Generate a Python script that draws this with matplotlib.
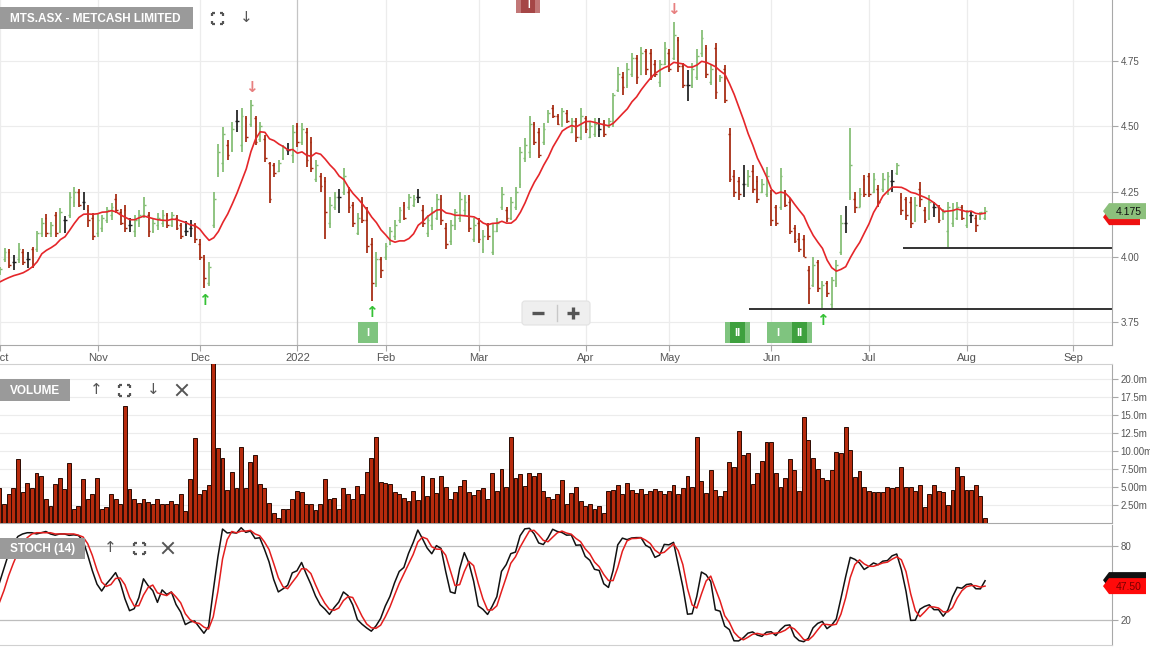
import numpy as np
import pandas as pd
import matplotlib
matplotlib.use("Agg")
import matplotlib.pyplot as plt
from matplotlib.patches import Rectangle, Polygon, FancyBboxPatch

plt.rcParams['font.family'] = ['Liberation Sans', 'DejaVu Sans']

# ---------------- data ----------------
holidays = ['2021-12-27', '2021-12-28', '2022-01-03', '2022-01-26',
            '2022-04-15', '2022-04-18', '2022-04-25', '2022-06-13']

opens = [3.94, 3.99, 4.02, 3.98, 3.99, 4.02, 3.99, 4.03, 4.03, 4.09,
         4.15, 4.09, 4.16, 4.10, 4.14, 4.16, 4.21, 4.25, 4.21, 4.18,
         4.15, 4.09, 4.11, 4.14, 4.16, 4.22, 4.17, 4.18, 4.12, 4.10,
         4.13, 4.16, 4.16, 4.10, 4.12, 4.13, 4.16, 4.12, 4.15, 4.12,
         4.10, 4.11, 4.12, 4.05, 3.99, 3.90, 4.12, 4.32, 4.36, 4.43,
         4.41, 4.52, 4.43, 4.53, 4.51, 4.53, 4.45, 4.45, 4.36, 4.35,
         4.33, 4.38, 4.41, 4.39, 4.50, 4.44, 4.48, 4.44, 4.30, 4.31,
         4.29, 4.13, 4.19, 4.23, 4.25, 4.25, 4.20, 4.09, 4.21, 4.14,
         4.05, 3.90, 3.99, 4.00, 4.05, 4.08, 4.14, 4.20, 4.19, 4.20,
         4.23, 4.18, 4.09, 4.12, 4.15, 4.22, 4.11, 4.06, 4.12, 4.15,
         4.18, 4.22, 4.07, 4.13, 4.03, 4.12, 4.02, 4.10, 4.19, 4.18,
         4.15, 4.19, 4.28, 4.38, 4.40, 4.51, 4.48, 4.44, 4.52, 4.57,
         4.54, 4.51, 4.55, 4.48, 4.52, 4.46, 4.53, 4.46, 4.47, 4.49,
         4.51, 4.50, 4.51, 4.64, 4.69, 4.66, 4.70, 4.76, 4.70, 4.79,
         4.78, 4.74, 4.67, 4.74, 4.78, 4.76, 4.83, 4.73, 4.66, 4.66,
         4.69, 4.78, 4.80, 4.67, 4.80, 4.68, 4.72, 4.47, 4.31, 4.29,
         4.28, 4.28, 4.33, 4.29, 4.25, 4.24, 4.24, 4.19, 4.19, 4.25,
         4.21, 4.11, 4.07, 4.07, 3.95, 3.89, 3.98, 3.82, 3.90, 3.82,
         3.90, 4.02, 4.13, 4.23, 4.22, 4.19, 4.30, 4.31, 4.25, 4.26,
         4.26, 4.25, 4.29, 4.32, 4.23, 4.22, 4.21, 4.14, 4.26, 4.18,
         4.15, 4.19, 4.19, 4.15, 4.10, 4.13, 4.15, 4.19, 4.12, 4.16,
         4.15, 4.15, 4.15]
highs = [3.960, 4.032, 4.028, 4.007, 4.054, 4.028, 4.019, 4.039, 4.100, 4.147,
         4.164, 4.134, 4.173, 4.188, 4.156, 4.249, 4.268, 4.258, 4.249, 4.198,
         4.166, 4.166, 4.160, 4.192, 4.205, 4.240, 4.185, 4.198, 4.147, 4.160,
         4.179, 4.230, 4.173, 4.147, 4.166, 4.179, 4.169, 4.173, 4.160, 4.128,
         4.138, 4.141, 4.131, 4.067, 4.007, 3.981, 4.249, 4.431, 4.498, 4.447,
         4.518, 4.562, 4.569, 4.539, 4.601, 4.539, 4.518, 4.466, 4.364, 4.360,
         4.371, 4.428, 4.437, 4.505, 4.511, 4.511, 4.492, 4.460, 4.371, 4.320,
         4.304, 4.230, 4.249, 4.258, 4.339, 4.269, 4.211, 4.166, 4.230, 4.192,
         4.071, 4.019, 4.000, 4.051, 4.115, 4.141, 4.190, 4.211, 4.240, 4.237,
         4.258, 4.198, 4.160, 4.192, 4.240, 4.237, 4.128, 4.141, 4.185, 4.249,
         4.237, 4.237, 4.147, 4.147, 4.103, 4.128, 4.128, 4.147, 4.268, 4.192,
         4.230, 4.268, 4.422, 4.454, 4.539, 4.518, 4.492, 4.511, 4.562, 4.581,
         4.549, 4.569, 4.562, 4.530, 4.530, 4.569, 4.539, 4.518, 4.530, 4.530,
         4.524, 4.530, 4.626, 4.728, 4.709, 4.741, 4.779, 4.773, 4.805, 4.798,
         4.798, 4.754, 4.754, 4.824, 4.795, 4.901, 4.843, 4.741, 4.716, 4.741,
         4.798, 4.869, 4.811, 4.735, 4.821, 4.696, 4.735, 4.492, 4.332, 4.307,
         4.352, 4.332, 4.352, 4.309, 4.300, 4.345, 4.256, 4.198, 4.339, 4.256,
         4.224, 4.122, 4.090, 4.083, 3.965, 3.998, 3.988, 3.908, 3.908, 3.924,
         3.988, 4.160, 4.194, 4.492, 4.249, 4.262, 4.313, 4.320, 4.322, 4.275,
         4.320, 4.326, 4.332, 4.360, 4.243, 4.230, 4.230, 4.230, 4.288, 4.189,
         4.237, 4.211, 4.198, 4.185, 4.211, 4.205, 4.211, 4.198, 4.179, 4.176,
         4.160, 4.173, 4.189]
lows = [3.930, 3.981, 3.956, 3.949, 3.975, 3.968, 3.956, 3.956, 4.019, 4.077,
        4.077, 4.077, 4.077, 4.090, 4.090, 4.147, 4.192, 4.192, 4.179, 4.115,
        4.064, 4.077, 4.096, 4.128, 4.141, 4.166, 4.122, 4.096, 4.096, 4.077,
        4.115, 4.147, 4.077, 4.090, 4.102, 4.115, 4.109, 4.115, 4.102, 4.067,
        4.080, 4.077, 4.051, 3.988, 3.879, 3.888, 4.109, 4.307, 4.326, 4.371,
        4.403, 4.479, 4.403, 4.441, 4.498, 4.428, 4.441, 4.364, 4.207, 4.307,
        4.326, 4.371, 4.390, 4.358, 4.422, 4.428, 4.345, 4.326, 4.288, 4.249,
        4.067, 4.109, 4.179, 4.166, 4.237, 4.166, 4.115, 4.083, 4.128, 4.016,
        3.832, 3.885, 3.917, 3.988, 4.045, 4.064, 4.130, 4.141, 4.179, 4.192,
        4.207, 4.115, 4.077, 4.102, 4.141, 4.122, 4.028, 4.045, 4.102, 4.134,
        4.160, 4.096, 4.058, 4.051, 4.016, 4.064, 4.007, 4.096, 4.179, 4.134,
        4.141, 4.179, 4.262, 4.364, 4.377, 4.428, 4.377, 4.428, 4.511, 4.530,
        4.505, 4.498, 4.511, 4.473, 4.441, 4.447, 4.473, 4.454, 4.460, 4.460,
        4.458, 4.492, 4.498, 4.632, 4.620, 4.645, 4.690, 4.664, 4.696, 4.696,
        4.677, 4.690, 4.652, 4.735, 4.709, 4.754, 4.709, 4.645, 4.598, 4.645,
        4.677, 4.767, 4.684, 4.658, 4.603, 4.671, 4.588, 4.288, 4.230, 4.217,
        4.228, 4.269, 4.245, 4.207, 4.245, 4.230, 4.118, 4.118, 4.179, 4.192,
        4.087, 4.051, 4.020, 3.998, 3.819, 3.885, 3.866, 3.802, 3.847, 3.802,
        3.885, 4.007, 4.090, 4.217, 4.166, 4.189, 4.230, 4.230, 4.243, 4.192,
        4.249, 4.237, 4.249, 4.313, 4.160, 4.141, 4.109, 4.134, 4.192, 4.128,
        4.141, 4.154, 4.128, 4.141, 4.036, 4.115, 4.141, 4.141, 4.109, 4.128,
        4.096, 4.141, 4.141]
closes = [3.955, 4.02, 3.97, 3.98, 4.03, 3.98, 3.99, 3.97, 4.09, 4.13,
          4.09, 4.12, 4.09, 4.17, 4.14, 4.23, 4.25, 4.20, 4.21, 4.14,
          4.08, 4.14, 4.15, 4.18, 4.19, 4.18, 4.13, 4.11, 4.12, 4.14,
          4.16, 4.20, 4.10, 4.13, 4.15, 4.16, 4.12, 4.16, 4.11, 4.08,
          4.10, 4.11, 4.07, 4.00, 3.92, 3.96, 4.22, 4.40, 4.47, 4.39,
          4.49, 4.52, 4.54, 4.46, 4.58, 4.44, 4.50, 4.38, 4.22, 4.32,
          4.36, 4.42, 4.41, 4.48, 4.44, 4.49, 4.37, 4.34, 4.35, 4.27,
          4.17, 4.20, 4.23, 4.23, 4.31, 4.19, 4.13, 4.15, 4.14, 4.04,
          3.90, 3.99, 3.95, 4.04, 4.10, 4.12, 4.18, 4.15, 4.23, 4.22,
          4.23, 4.13, 4.14, 4.17, 4.22, 4.14, 4.05, 4.12, 4.17, 4.22,
          4.21, 4.11, 4.12, 4.07, 4.08, 4.08, 4.10, 4.13, 4.24, 4.15,
          4.21, 4.25, 4.40, 4.43, 4.51, 4.44, 4.39, 4.49, 4.55, 4.54,
          4.51, 4.56, 4.52, 4.52, 4.46, 4.54, 4.49, 4.50, 4.51, 4.49,
          4.47, 4.52, 4.62, 4.70, 4.65, 4.72, 4.76, 4.69, 4.78, 4.72,
          4.69, 4.70, 4.74, 4.80, 4.72, 4.85, 4.73, 4.66, 4.66, 4.72,
          4.77, 4.84, 4.70, 4.72, 4.63, 4.69, 4.60, 4.30, 4.25, 4.24,
          4.28, 4.31, 4.26, 4.22, 4.28, 4.31, 4.14, 4.13, 4.31, 4.20,
          4.10, 4.06, 4.03, 4.00, 3.88, 3.97, 3.88, 3.89, 3.86, 3.91,
          3.97, 4.13, 4.13, 4.35, 4.19, 4.24, 4.24, 4.24, 4.30, 4.21,
          4.30, 4.31, 4.29, 4.35, 4.18, 4.16, 4.13, 4.20, 4.22, 4.14,
          4.21, 4.19, 4.14, 4.17, 4.19, 4.18, 4.19, 4.15, 4.171, 4.16,
          4.12, 4.17, 4.175]
volumes_m = [4.8, 2.7, 4.1, 4.8, 8.85, 4.35, 5.6, 4.8, 7.0, 6.6,
             3.3, 2.3, 5.4, 6.2, 4.7, 8.4, 1.9, 2.3, 6.1, 3.4,
             4.1, 6.2, 2.0, 2.2, 4.0, 3.3, 2.6, 16.25, 4.7, 3.3,
             2.8, 3.3, 2.9, 2.6, 3.4, 2.7, 2.6, 3.0, 2.6, 4.0,
             1.6, 6.1, 11.8, 4.1, 4.6, 5.3, 26.0, 10.4, 9.0, 4.6,
             7.1, 4.8, 10.6, 4.9, 8.5, 9.5, 5.4, 4.8, 2.8, 1.4,
             0.7, 1.9, 1.9, 3.4, 4.5, 4.35, 2.6, 2.6, 1.8, 2.7,
             6.1, 3.4, 3.5, 2.0, 4.8, 4.1, 3.4, 5.1, 4.1, 7.1,
             9.0, 11.9, 5.7, 5.5, 5.4, 4.35, 4.0, 3.5, 3.0, 4.5,
             3.2, 6.5, 3.8, 6.3, 4.2, 6.6, 5.0, 3.3, 4.3, 5.1,
             6.0, 4.3, 3.9, 4.6, 4.8, 3.3, 7.0, 4.4, 7.5, 5.0,
             12.0, 6.3, 6.8, 5.2, 7.0, 6.5, 6.9, 4.4, 3.6, 3.4,
             4.0, 6.0, 2.7, 4.2, 5.0, 3.0, 2.4, 2.6, 2.0, 2.3,
             1.4, 4.5, 4.6, 5.3, 4.0, 5.5, 4.6, 4.2, 4.7, 4.0,
             4.5, 4.7, 4.4, 4.0, 4.4, 5.3, 4.1, 4.8, 6.5, 5.0,
             12.0, 5.9, 4.2, 7.3, 4.6, 3.8, 4.4, 8.5, 7.8, 12.8,
             9.5, 9.7, 5.4, 7.0, 8.6, 11.3, 11.2, 7.0, 5.0, 6.3,
             8.9, 7.3, 4.5, 14.8, 11.6, 9.0, 7.5, 6.3, 6.0, 7.3,
             9.9, 9.7, 13.3, 10.2, 6.4, 7.2, 5.0, 4.4, 4.3, 4.3,
             4.3, 5.0, 4.8, 5.0, 7.8, 5.0, 5.0, 4.4, 5.3, 2.2,
             4.0, 5.3, 4.4, 4.3, 2.5, 4.6, 7.8, 6.5, 4.6, 4.6,
             5.3, 3.8, 0.7]

# moving average values before a full 10-day window exists
ma_head = [3.904, 3.913, 3.921, 3.928, 3.933, 3.939, 3.949, 3.962, 3.981]
ma_period = 10
# slow stochastic (14,3,3): values before full windows exist
k_head = [50, 62, 74, 82, 88, 90, 91, 91, 90, 91, 92, 90, 89, 90, 90]
d_head = [34, 44, 56, 66, 75, 82, 87, 90, 91, 91, 91, 91, 90, 90, 90, 90, 90]
stoch_period = 14
stoch_smooth = 3

price_ticks = [3.75, 4.00, 4.25, 4.50, 4.75]
vol_ticks = [2.5, 5.0, 7.5, 10.0, 12.5, 15.0, 17.5, 20.0]
vol_tick_labels = ['2.50m', '5.00m', '7.50m', '10.00m', '12.5m', '15.0m', '17.5m', '20.0m']
stoch_ticks = [20, 80]
month_labels = ['Oct', 'Nov', 'Dec', '2022', 'Feb', 'Mar', 'Apr', 'May', 'Jun', 'Jul', 'Aug', 'Sep']
up_signals = [44, 80, 177]
down_signals = [54, 145]
events_bottom = [(79.1, 'I', False), (158.7, 'II', True), (167.3, 'I', False), (172.1, 'II', True)]
events_top = [(113.7, 'I')]
support_lines = [(4.034, 194.3), (3.80, 161.2)]
title = 'MTS.ASX - METCASH LIMITED'

# ---------------- derived ----------------
n = len(closes)
idx = np.arange(n)
o = np.array(opens); h = np.array(highs); l = np.array(lows); c = np.array(closes)
days = pd.bdate_range('2021-10-01', '2022-09-30', freq='C', holidays=holidays)
month_starts = [i for i in range(len(days)) if i == 0 or days[i].month != days[i - 1].month]

ma = pd.Series(c).rolling(ma_period).mean().to_numpy()
ma[:len(ma_head)] = ma_head

hh = pd.Series(h).rolling(stoch_period).max()
ll = pd.Series(l).rolling(stoch_period).min()
fast_k = 100 * (pd.Series(c) - ll) / (hh - ll)
k = fast_k.rolling(stoch_smooth).mean().to_numpy()
k[:len(k_head)] = k_head
d = pd.Series(k).rolling(stoch_smooth).mean().to_numpy()
d[:len(d_head)] = d_head

# ---------------- figure ----------------
W, H = 1150, 652
fig = plt.figure(figsize=(W / 100, H / 100), dpi=100)
fig.patch.set_facecolor('white')


def rect(left, top, right, bottom):
    return [left / W, 1 - bottom / H, (right - left) / W, (bottom - top) / H]


XL = (0.14, 239.3)
GRID = '#ececec'
AXC = '#a8a8a8'
TXT = '#555555'

ax_p = fig.add_axes(rect(0, 0, 1112, 345))
ax_v = fig.add_axes(rect(0, 364, 1112, 523))
ax_s = fig.add_axes(rect(0, 525, 1112, 645))

for ax in (ax_p, ax_v, ax_s):
    ax.set_xlim(*XL)
    ax.set_facecolor('white')
    for s in ('left', 'top'):
        ax.spines[s].set_visible(False)
    ax.spines['right'].set_color(AXC)
    ax.spines['bottom'].set_color(AXC)
    ax.yaxis.tick_right()
    ax.tick_params(axis='y', direction='out', length=4, width=0.8, color=AXC,
                   labelsize=7, labelcolor=TXT, pad=2)

# --- price panel ---
ax_p.set_ylim(3.662, 4.984)
ax_p.set_yticks(price_ticks)
ax_p.set_yticklabels(['%.2f' % t for t in price_ticks])
for t in price_ticks:
    ax_p.axhline(t, color=GRID, lw=0.8, zorder=0)
for ms, lab in zip(month_starts, month_labels):
    ax_p.axvline(ms, color=('#c4c4c4' if lab == '2022' else GRID), lw=0.9, zorder=0)
ax_p.set_xticks(month_starts)
ax_p.set_xticklabels(month_labels)
ax_p.tick_params(axis='x', direction='out', length=4, width=0.8, color=AXC,
                 labelsize=8, labelcolor=TXT, pad=2)

up_c, dn_c, flat_c = '#82bd72', '#a3260c', '#1e1e1e'
cols = [up_c if cc > oo else (dn_c if cc < oo else flat_c) for oo, cc in zip(o, c)]
ax_p.vlines(idx, l, h, colors=cols, lw=1.25, zorder=3)
ax_p.hlines(o, idx - 0.38, idx, colors=cols, lw=1.0, zorder=3)
ax_p.hlines(c, idx, idx + 0.38, colors=cols, lw=1.0, zorder=3)
ax_p.plot(idx, ma, color='#e5262a', lw=1.2, zorder=4)

for price, start in support_lines:
    ax_p.hlines(price, start, XL[1], colors='#111111', lw=1.2, zorder=2)

for s in down_signals:
    ax_p.annotate('\u2193', xy=(s, h[s]), xytext=(0, 12), textcoords='offset pixels',
                  ha='center', va='center', color='#e77f7f', fontsize=11, fontweight='bold',
                  family='DejaVu Sans', annotation_clip=False)
for s in up_signals:
    ax_p.annotate('\u2191', xy=(s, l[s]), xytext=(0, -12), textcoords='offset pixels',
                  ha='center', va='center', color='#35c135', fontsize=11, fontweight='bold',
                  family='DejaVu Sans', annotation_clip=False)

bt = ax_p.get_xaxis_transform()
ppx = (XL[1] - XL[0]) / 1112.0  # data units per pixel
for xc, lab, dark in events_bottom:
    wpx = 25 if dark else 20
    ax_p.add_patch(Rectangle((xc - wpx / 2 * ppx, 2 / 345), wpx * ppx, 21 / 345,
                             transform=bt, fc='#7fc47f', ec='none', zorder=5))
    if dark:
        ax_p.add_patch(Rectangle((xc - 7.5 * ppx, 2 / 345), 15 * ppx, 21 / 345,
                                 transform=bt, fc='#3ea03e', ec='none', zorder=6))
    ax_p.text(xc, 12.5 / 345, lab, transform=bt, ha='center', va='center', color='white',
              fontsize=8, fontweight='bold', zorder=7)
for xc, lab in events_top:
    ax_p.add_patch(Rectangle((xc - 12 * ppx, 1 - 13 / 345), 24 * ppx, 20 / 345,
                             transform=bt, fc='#c27777', ec='none', zorder=5, clip_on=False))
    ax_p.add_patch(Rectangle((xc - 7 * ppx, 1 - 13 / 345), 14 * ppx, 20 / 345,
                             transform=bt, fc='#a54646', ec='none', zorder=6, clip_on=False))
    ax_p.text(xc, 1 - 5 / 345, lab, transform=bt, ha='center', va='center', color='white',
              fontsize=7, fontweight='bold', zorder=7)

# --- volume panel ---
ax_v.set_ylim(0, 22.1)
ax_v.spines['top'].set_visible(True)
ax_v.spines['top'].set_color('#d0d0d0')
ax_v.set_yticks(vol_ticks)
ax_v.set_yticklabels(vol_tick_labels)
for t in vol_ticks:
    ax_v.axhline(t, color=GRID, lw=0.8, zorder=0)
ax_v.bar(idx, volumes_m, width=0.84, color='#b72b0d', edgecolor='#2b0a02', lw=0.7, zorder=3)
ax_v.set_xticks([])

# --- stoch panel ---
ax_s.set_ylim(-0.5, 97.3)
ax_s.set_yticks(stoch_ticks)
ax_s.set_yticklabels([str(t) for t in stoch_ticks])
for t in stoch_ticks:
    ax_s.axhline(t, color='#bdbdbd', lw=0.9, zorder=0)
ax_s.spines['bottom'].set_color('#d0d0d0')
ax_s.set_xticks([])
ax_s.plot(idx, k, color='#111111', lw=1.1, zorder=3)
ax_s.plot(idx, d, color='#e31e1e', lw=1.1, zorder=4)

# ---------------- overlay UI ----------------
ov = fig.add_axes([0, 0, 1, 1], zorder=10)
ov.set_xlim(0, W)
ov.set_ylim(H, 0)
ov.axis('off')
ov.patch.set_alpha(0)


def expand_icon(cx, cy, s=5.5, a=3.0):
    for sx in (-1, 1):
        for sy in (-1, 1):
            ov.plot([cx + sx * s, cx + sx * s], [cy + sy * s, cy + sy * (s - a)], color=TXT, lw=1.6,
                    solid_capstyle='butt')
            ov.plot([cx + sx * s, cx + sx * (s - a)], [cy + sy * s, cy + sy * s], color=TXT, lw=1.6,
                    solid_capstyle='butt')


def close_icon(cx, cy, s=5):
    ov.plot([cx - s, cx + s], [cy - s, cy + s], color=TXT, lw=1.4)
    ov.plot([cx - s, cx + s], [cy + s, cy - s], color=TXT, lw=1.4)


def arrow_icon(cx, cy, up=True):
    ov.text(cx, cy, '\u2191' if up else '\u2193', ha='center', va='center', color=TXT,
            fontsize=11, family='DejaVu Sans')


def label_box(x0, y0, w, hh_, text):
    ov.add_patch(Rectangle((x0, y0), w, hh_, fc='#9a9a9a', ec='none'))
    ov.text(x0 + 10, y0 + hh_ / 2 + 0.5, text, ha='left', va='center', color='white',
            fontsize=8.5, fontweight='bold')


label_box(0, 7, 193, 22, title)
expand_icon(217, 18)
arrow_icon(246, 18, up=False)

label_box(0, 379, 70, 22, 'VOLUME')
arrow_icon(96, 390, up=True)
expand_icon(124, 390)
arrow_icon(153, 390, up=False)
close_icon(182, 390)

label_box(0, 538, 85, 21, 'STOCH (14)')
arrow_icon(110, 548, up=True)
expand_icon(139, 548)
close_icon(168, 548)

# zoom control
ov.add_patch(FancyBboxPatch((522, 301), 68, 24, boxstyle='round,pad=0,rounding_size=3',
                            fc='#efefef', ec='#e2e2e2', lw=0.8))
ov.plot([538 - 6, 538 + 6], [313, 313], color=TXT, lw=2.4, solid_capstyle='butt')
ov.plot([573 - 6, 573 + 6], [313, 313], color=TXT, lw=2.4, solid_capstyle='butt')
ov.plot([573, 573], [307, 319], color=TXT, lw=2.4, solid_capstyle='butt')
ov.plot([557, 557], [305, 321], color='#c8c8c8', lw=1)


def to_px(ax, val):
    return H - ax.transData.transform((0, val))[1]


def tag(ypx, text, fc, tc, xr=1146):
    pts = [(1103, ypx), (1109, ypx - 8), (xr, ypx - 8), (xr, ypx + 8), (1109, ypx + 8)]
    ov.add_patch(Polygon(pts, closed=True, fc=fc, ec='none'))
    if text:
        ov.text((1109 + xr) / 2 + 1, ypx + 0.5, text, ha='center', va='center', color=tc,
                fontsize=7.5)


# moving-average tag sits underneath the price tag (its text is hidden there)
tag(max(to_px(ax_p, ma[-1]), to_px(ax_p, c[-1]) + 6), None, '#ee1111', '#7a0000', xr=1140)
tag(to_px(ax_p, c[-1]), '%.3f' % c[-1], '#8cc07c', '#111111')
# %K tag sits underneath the %D tag
tag(min(to_px(ax_s, k[-1]), to_px(ax_s, d[-1]) - 6), None, '#111111', '#111111')
tag(to_px(ax_s, d[-1]), '%.2f' % d[-1], '#ff0a0a', '#7a0000')

fig.savefig('out.png', dpi=100)
